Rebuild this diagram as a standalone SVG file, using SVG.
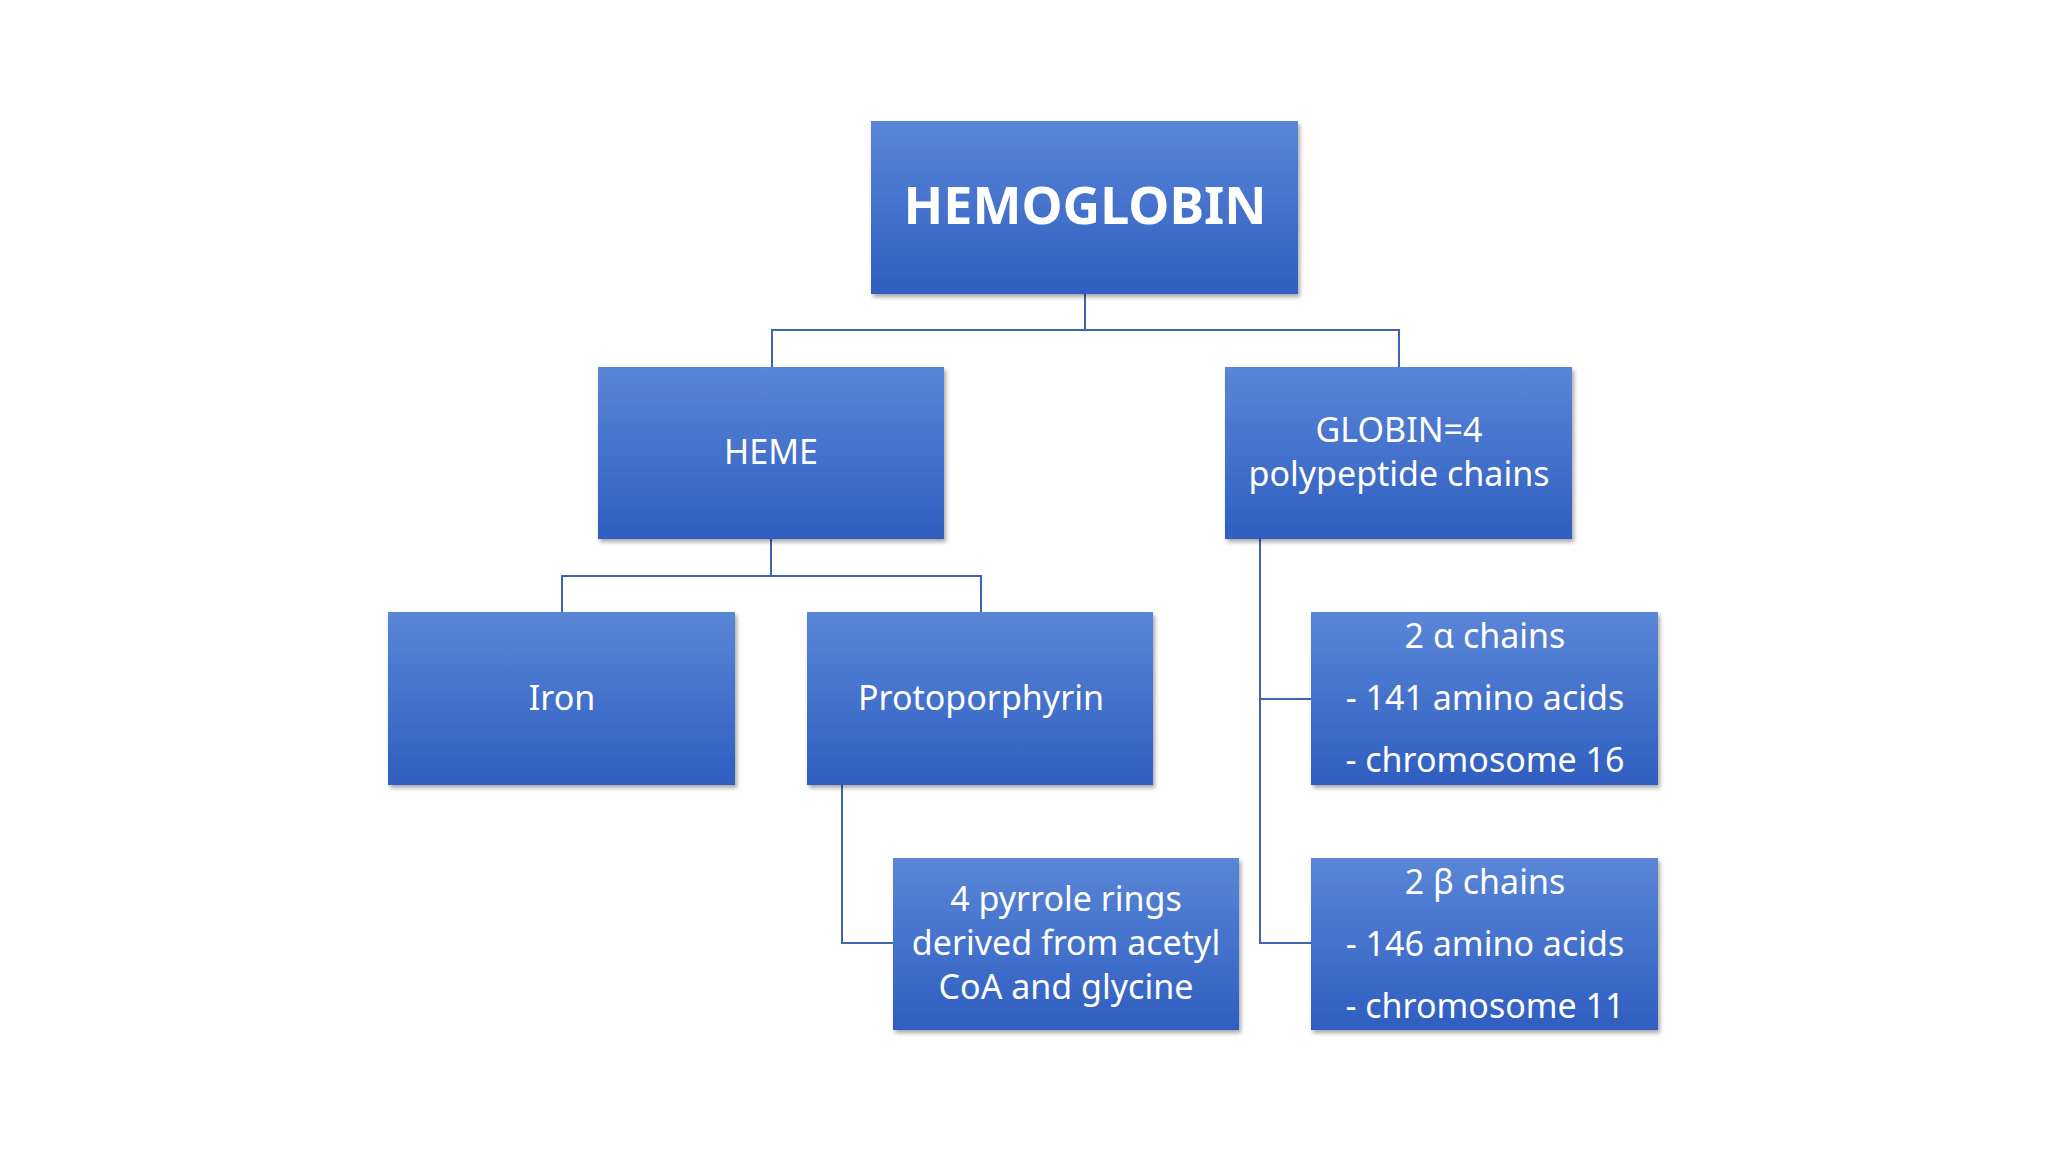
<svg xmlns="http://www.w3.org/2000/svg" width="2048" height="1152" viewBox="0 0 2048 1152">
<defs>
<linearGradient id="g" x1="0" y1="0" x2="0" y2="1"><stop offset="0" stop-color="#5A86D7"/><stop offset="1" stop-color="#2F5EC0"/></linearGradient>
<filter id="s" x="-5%" y="-5%" width="115%" height="120%"><feDropShadow dx="2" dy="3" stdDeviation="2" flood-color="#000" flood-opacity="0.35"/></filter>
<style>
.b{fill:url(#g);filter:url(#s)}
.t{font-family:"Noto Sans","Open Sans",sans-serif;font-size:34px;fill:#fff;text-anchor:middle}
.c{fill:none;stroke:#3E65AE;stroke-width:2}
</style>
</defs>
<rect width="2048" height="1152" fill="#fff"/>
<g id="connectors">
<path class="c" d="M1085 294V330M772 367V330H1399V367"/>
<path class="c" d="M771 539V576M562 612V576H981V612"/>
<path class="c" d="M842 785V943H893"/>
<path class="c" d="M1260 539V943H1311M1260 699H1311"/>
</g>
<g id="hemoglobin"><rect class="b" x="871" y="121" width="427" height="173"/><text class="t" x="1085" y="224" style="font-size:52px;font-weight:bold">HEMOGLOBIN</text></g>
<g id="heme"><rect class="b" x="598" y="367" width="346" height="172"/><text class="t" x="771" y="464">HEME</text></g>
<g id="globin"><rect class="b" x="1225" y="367" width="347" height="172"/><text class="t" x="1399" y="442">GLOBIN=4</text><text class="t" x="1399" y="486">polypeptide chains</text></g>
<g id="iron"><rect class="b" x="388" y="612" width="347" height="173"/><text class="t" x="562" y="710">Iron</text></g>
<g id="proto"><rect class="b" x="807" y="612" width="346" height="173"/><text class="t" x="981" y="710">Protoporphyrin</text></g>
<g id="pyrrole"><rect class="b" x="893" y="858" width="346" height="172"/><text class="t" x="1066" y="911">4 pyrrole rings</text><text class="t" x="1066" y="955">derived from acetyl</text><text class="t" x="1066" y="999">CoA and glycine</text></g>
<g id="alpha"><rect class="b" x="1311" y="612" width="347" height="173"/><text class="t" x="1485" y="648">2 α chains</text><text class="t" x="1485" y="710">- 141 amino acids</text><text class="t" x="1485" y="772">- chromosome 16</text></g>
<g id="beta"><rect class="b" x="1311" y="858" width="347" height="172"/><text class="t" x="1485" y="894">2 β chains</text><text class="t" x="1485" y="956">- 146 amino acids</text><text class="t" x="1485" y="1018">- chromosome 11</text></g>
</svg>
